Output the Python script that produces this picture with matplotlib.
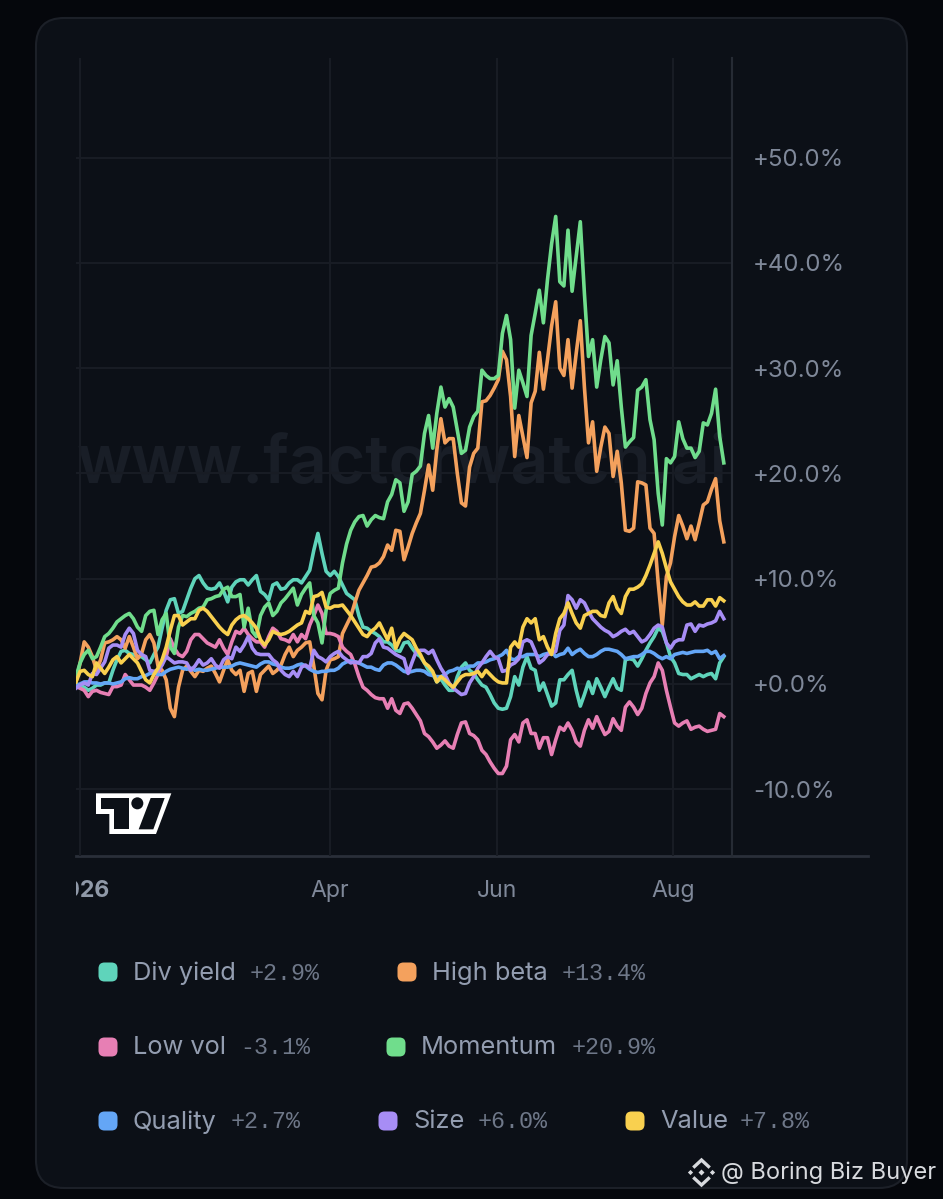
import matplotlib
matplotlib.use("Agg")
import matplotlib.pyplot as plt
import numpy as np
from matplotlib.patches import Circle, FancyBboxPatch, Polygon
from matplotlib.transforms import Bbox

# cumulative return (%) per trading day since the start of 2026
div_yield = [
    -0.1, -0.1, -0.3, -0.6, -0.4, -0.1, -0.1, 0.1, 0.1, 1.3, 2.3, 3.1, 3.2, 2.9, 2.8, 2.6, 2.6, 2.3, 2.0, 2.8,
    3.5, 5.3, 7.0, 8.0, 8.1, 6.7, 6.9, 8.0, 9.1, 10.0, 10.3, 9.6, 9.1, 9.0, 9.1, 9.6, 8.8, 7.8, 9.2, 9.7,
    9.9, 9.9, 9.4, 9.9, 10.3, 8.8, 8.5, 8.0, 9.4, 9.6, 9.0, 9.1, 9.6, 9.9, 9.9, 9.6, 10.2, 10.8, 12.7, 14.3,
    12.4, 10.7, 10.3, 10.7, 10.2, 9.4, 8.6, 8.3, 8.0, 6.5, 5.4, 5.3, 5.0, 4.8, 4.5, 4.0, 4.0, 3.7, 3.2, 3.1,
    3.9, 4.0, 3.4, 2.9, 2.6, 2.0, 1.3, 1.0, 0.2, 0.5, -0.1, -0.6, -0.6, 0.7, 1.6, 2.0, 1.3, 1.0, 0.4, -0.1,
    -0.3, -1.0, -1.8, -2.3, -2.4, -2.3, -1.2, 0.7, -0.1, 1.6, 2.6, 1.5, 1.3, -0.6, 0.1, -1.0, -2.1, -1.8, 0.4, 0.4,
    0.9, 1.3, -0.6, -2.1, -1.0, 0.2, -0.9, 0.5, -0.3, -1.2, -0.3, 0.5, -0.4, -0.6, 2.3, 2.4, 2.3, 1.7, 2.4, 3.2,
    3.9, 4.5, 5.3, 5.0, 3.9, 2.6, 2.0, 1.0, 0.9, 0.9, 0.5, 0.7, 0.9, 0.7, 0.9, 1.0, 0.5, 2.0, 2.6,
]
high_beta = [
    0.2, 2.0, 4.0, 3.5, 2.6, 1.3, 2.3, 3.9, 4.0, 4.2, 4.5, 4.2, 3.4, 4.5, 3.5, 2.4, 2.9, 4.2, 4.7, 3.9,
    1.7, 1.3, 0.4, -2.3, -3.1, -0.3, 1.3, 1.7, 1.2, 0.7, 1.3, 1.2, 1.5, 1.7, 1.0, 0.2, 1.3, 2.3, 1.3, 0.9,
    1.3, -0.7, 1.0, 1.2, -0.7, 0.9, 1.3, 1.7, 1.0, 1.3, 1.8, 2.8, 3.5, 2.6, 3.2, 3.5, 3.9, 4.0, 1.7, -0.9,
    -1.5, 1.3, 2.3, 2.4, 2.6, 4.8, 5.6, 6.4, 7.7, 8.9, 9.6, 10.3, 11.1, 11.2, 11.5, 12.1, 13.2, 12.7, 14.6, 14.5,
    11.8, 13.0, 14.3, 15.3, 16.2, 18.4, 20.8, 18.4, 22.2, 25.2, 22.9, 23.3, 23.3, 20.0, 17.2, 16.9, 20.6, 21.9, 22.4, 26.8,
    26.9, 27.4, 28.1, 28.9, 31.6, 30.8, 27.3, 21.6, 25.5, 23.5, 21.5, 26.7, 27.8, 31.5, 28.0, 30.8, 34.0, 36.3, 30.0, 29.3,
    32.7, 28.1, 31.4, 34.5, 28.2, 22.9, 24.9, 20.2, 22.5, 24.4, 23.8, 19.7, 22.1, 19.1, 14.6, 14.5, 14.8, 19.2, 19.1, 18.9,
    14.8, 14.3, 9.6, 5.6, 10.2, 11.5, 14.0, 16.0, 15.0, 13.8, 15.0, 13.7, 15.3, 17.0, 17.3, 18.5, 19.5, 15.5, 13.5,
]
low_vol = [
    -0.25, -0.4, -0.6, -1.2, -0.7, -0.6, -0.8, -0.9, -1.0, -0.25, -0.25, -0.1, 0.9, 0.4, -0.1, -0.1, -0.1, -0.3, -0.6, 0.1,
    0.9, 2.0, 2.6, 4.3, 3.4, 2.8, 2.6, 3.1, 4.2, 4.7, 4.7, 4.3, 3.9, 3.7, 3.5, 4.2, 3.4, 2.8, 4.0, 5.0,
    4.8, 5.3, 4.7, 4.3, 4.0, 4.0, 3.5, 4.5, 5.3, 5.0, 4.3, 4.2, 4.0, 4.7, 4.0, 4.7, 4.3, 5.6, 6.5, 7.5,
    6.7, 4.8, 4.8, 4.7, 4.5, 3.5, 3.1, 2.8, 1.9, 0.7, -0.3, -0.6, -1.0, -1.3, -1.4, -1.4, -2.3, -1.4, -2.5, -2.8,
    -1.9, -1.8, -2.3, -2.9, -3.5, -4.7, -5.0, -5.5, -6.1, -5.8, -5.4, -5.9, -6.1, -4.8, -3.7, -3.6, -4.7, -4.9, -5.3, -6.3,
    -6.7, -7.4, -8.0, -8.5, -8.5, -7.8, -5.3, -4.8, -5.5, -3.7, -3.4, -4.7, -4.7, -6.1, -5.1, -5.1, -6.7, -5.3, -4.1, -4.4,
    -3.7, -4.4, -5.5, -5.9, -4.4, -3.4, -4.2, -3.1, -4.0, -4.8, -4.5, -3.3, -4.0, -4.4, -2.2, -1.7, -2.2, -2.9, -2.3, -0.9,
    0.1, 0.7, 2.0, 1.3, -0.6, -2.2, -3.7, -4.0, -3.7, -3.5, -4.3, -4.1, -4.0, -4.3, -4.5, -4.4, -4.3, -2.8, -3.1,
]
momentum = [
    0.7, 2.0, 2.8, 3.2, 2.4, 2.6, 3.5, 4.5, 4.8, 5.3, 5.9, 6.2, 6.5, 6.7, 6.2, 5.4, 5.0, 6.5, 6.9, 7.0,
    4.7, 6.1, 6.7, 3.5, 2.9, 5.4, 6.5, 6.4, 6.7, 6.9, 7.2, 7.3, 8.0, 8.1, 8.3, 8.4, 9.0, 9.2, 8.3, 8.3,
    8.5, 5.4, 7.2, 5.0, 4.5, 6.5, 7.3, 7.7, 6.5, 6.9, 7.7, 8.1, 8.6, 9.1, 7.5, 8.5, 9.1, 9.6, 6.5, 5.8,
    3.9, 7.0, 8.6, 8.9, 9.1, 11.5, 13.3, 14.6, 15.4, 15.9, 16.0, 15.0, 15.6, 16.0, 15.8, 15.7, 17.3, 18.0, 19.4, 19.1,
    16.4, 17.3, 19.9, 20.2, 20.7, 23.8, 25.5, 22.4, 25.7, 28.2, 26.3, 27.1, 26.3, 24.1, 21.9, 22.2, 24.4, 25.4, 25.9, 29.8,
    29.3, 29.0, 29.0, 29.3, 33.3, 35.0, 32.7, 26.2, 29.8, 28.6, 27.3, 33.1, 35.2, 37.4, 34.3, 38.4, 41.8, 44.4, 38.2, 37.8,
    43.1, 37.3, 40.6, 43.9, 37.1, 31.1, 32.7, 28.2, 30.8, 33.0, 32.4, 28.4, 30.7, 26.3, 22.5, 23.0, 23.4, 27.9, 28.2, 28.9,
    25.1, 23.2, 18.1, 15.1, 21.4, 21.0, 21.6, 24.9, 23.3, 22.4, 22.4, 21.5, 22.1, 24.8, 24.6, 25.7, 28.0, 23.5, 21.0,
]
quality = [
    -0.1, 0.0, 0.2, 0.2, 0.1, 0.1, 0.0, 0.1, 0.1, 0.0, 0.1, 0.2, 0.5, 0.6, 0.5, 0.5, 0.7, 0.8, 1.0, 1.1,
    0.9, 0.9, 1.2, 1.4, 1.5, 1.6, 1.5, 1.4, 1.5, 1.3, 1.4, 1.3, 1.3, 1.4, 1.5, 1.6, 1.6, 1.6, 1.7, 1.9,
    2.0, 1.9, 1.8, 1.7, 1.6, 1.9, 2.1, 2.1, 1.9, 1.8, 1.6, 1.5, 1.5, 1.6, 1.8, 1.9, 1.7, 1.4, 1.2, 1.1,
    1.2, 1.2, 1.3, 1.3, 1.5, 1.9, 2.1, 2.2, 2.1, 2.0, 1.8, 1.6, 1.6, 1.4, 1.3, 1.8, 2.0, 2.0, 1.8, 1.5,
    1.2, 1.1, 1.2, 1.3, 1.3, 1.2, 0.9, 0.8, 0.7, 0.7, 0.9, 1.2, 1.3, 1.5, 1.4, 1.5, 1.7, 1.7, 2.0, 2.0,
    2.1, 2.3, 2.4, 2.6, 2.8, 3.2, 2.4, 2.3, 2.6, 2.6, 2.8, 2.8, 2.8, 2.6, 2.8, 2.9, 3.1, 2.6, 2.8, 2.9,
    3.4, 2.8, 3.1, 3.3, 2.9, 2.6, 2.6, 2.8, 3.1, 3.3, 3.3, 3.2, 3.1, 2.8, 2.4, 2.5, 2.6, 2.6, 2.8, 3.1,
    3.1, 2.9, 2.6, 2.4, 2.6, 2.4, 2.8, 2.9, 3.0, 2.9, 3.0, 3.1, 3.1, 3.1, 3.2, 2.9, 3.1, 2.4, 2.7,
]
size = [
    -0.4, -0.1, 0.1, -0.1, 1.0, 0.9, 1.5, 2.1, 3.4, 3.7, 3.7, 3.5, 4.7, 5.3, 4.8, 3.2, 2.8, 2.6, 1.3, 1.2,
    1.3, 1.8, 2.6, 2.3, 2.0, 2.1, 2.1, 2.0, 1.3, 1.7, 2.3, 1.8, 2.0, 2.4, 1.8, 1.5, 2.3, 2.6, 2.4, 3.5,
    3.1, 3.7, 4.5, 3.4, 2.9, 2.8, 2.8, 2.8, 2.3, 2.0, 1.3, 0.9, 0.7, 1.2, 0.7, 1.6, 1.8, 1.5, 3.2, 2.6,
    2.4, 2.1, 2.6, 2.9, 3.1, 2.6, 2.3, 2.0, 2.1, 2.0, 2.6, 2.6, 2.9, 3.9, 4.3, 3.5, 3.4, 3.1, 2.8, 2.6,
    2.4, 1.0, 2.1, 3.1, 3.2, 3.2, 2.9, 3.2, 2.3, 1.5, 0.9, 0.1, -0.4, -0.7, -1.0, -0.9, 0.1, 0.7, 1.5, 2.0,
    2.6, 3.1, 2.6, 2.4, 1.2, 1.3, 1.8, 2.0, 2.4, 4.0, 4.2, 4.0, 3.1, 2.0, 2.3, 2.8, 2.9, 3.1, 5.1, 5.6,
    8.4, 8.0, 7.2, 8.0, 7.7, 6.9, 6.2, 5.8, 5.4, 5.1, 4.9, 4.5, 4.7, 5.0, 5.2, 4.8, 5.0, 4.5, 4.0, 4.2,
    4.7, 5.3, 5.6, 5.4, 3.9, 3.4, 4.0, 4.2, 4.2, 5.6, 5.7, 5.0, 5.6, 5.5, 5.7, 5.8, 6.0, 6.9, 6.2,
]
value = [
    0.2, 1.2, 1.3, 0.9, 0.7, 2.0, 1.5, 1.0, 1.6, 2.3, 2.6, 2.0, 2.4, 2.8, 2.4, 2.0, 1.2, 0.4, 0.1, 0.9,
    1.5, 2.3, 3.5, 5.1, 6.5, 6.5, 5.6, 5.9, 6.2, 6.2, 7.0, 7.2, 6.9, 6.4, 5.9, 5.4, 5.0, 4.7, 5.6, 6.1,
    6.4, 6.5, 6.2, 5.8, 5.3, 4.2, 3.7, 4.2, 5.0, 4.8, 4.7, 4.8, 5.0, 5.3, 5.6, 5.8, 6.9, 6.7, 8.3, 8.4,
    8.7, 7.3, 7.2, 7.4, 7.4, 7.5, 7.0, 6.5, 5.9, 5.3, 4.7, 4.5, 5.0, 5.3, 5.8, 5.0, 4.2, 5.3, 3.4, 4.3,
    4.8, 4.5, 4.2, 3.4, 2.8, 2.0, 1.7, 1.2, 0.2, 0.7, 0.4, 0.0, -0.3, 0.2, 0.7, 0.9, 0.9, 1.0, 1.2, 0.7,
    1.3, 0.9, 0.5, 0.2, 0.1, 0.1, 3.5, 4.0, 3.5, 5.4, 6.2, 5.8, 6.2, 4.2, 4.5, 3.5, 2.8, 4.8, 6.2, 6.7,
    7.7, 6.7, 5.8, 5.3, 6.5, 6.7, 6.9, 6.9, 6.5, 6.4, 7.7, 8.3, 7.2, 6.7, 8.3, 9.0, 9.0, 9.2, 9.5, 10.3,
    11.3, 12.4, 13.5, 12.4, 11.0, 9.7, 9.0, 8.3, 7.8, 7.5, 7.5, 7.8, 7.4, 7.4, 8.0, 8.0, 7.4, 8.2, 7.9,
]

days = np.arange(159)
names = ["Div yield", "High beta", "Low vol", "Momentum", "Quality", "Size", "Value"]
finals = ["+2.9%", "+13.4%", "-3.1%", "+20.9%", "+2.7%", "+6.0%", "+7.8%"]
colors = ["#5fd4bb", "#f4a15d", "#e77fb4", "#70dd8c", "#64a6f6", "#a78df5", "#f9d04f"]
series = [div_yield, high_beta, low_vol, momentum, quality, size, value]

y_ticks = [-10, 0, 10, 20, 30, 40, 50]
month_pos = [1, 62, 102.7, 145.6]
month_labels = ["2026", "Apr", "Jun", "Aug"]

W, H = 943, 1199
BG_OUT = "#05070c"
BG_CARD = "#0c1017"
GRID = "#181c24"
TICK = "#7f8899"

plt.rcParams["font.family"] = ["Inter", "DejaVu Sans"]
fig = plt.figure(figsize=(W / 100, H / 100), dpi=100, facecolor=BG_OUT)

# full figure layer in pixel coordinates for card, logos, legend
bg = fig.add_axes([0, 0, 1, 1], zorder=0)
bg.set_xlim(0, W)
bg.set_ylim(H, 0)
bg.axis("off")
bg.add_patch(FancyBboxPatch((36, 18), 871, 1170, boxstyle="round,pad=0,rounding_size=28",
                            fc=BG_CARD, ec="#1c2028", lw=1.5))

ax = fig.add_axes([76 / W, 1 - 856 / H, (732 - 76) / W, (856 - 58) / H], zorder=1)
ax.patch.set_alpha(0)
ax.set_xlim(0, 160)
ax.set_ylim((684 - 856) / 10.53, (684 - 58) / 10.53)

ax.grid(True, color=GRID, lw=1.5, zorder=0.5)
ax.set_axisbelow(True)
for side in ["top", "left", "bottom"]:
    ax.spines[side].set_visible(False)
ax.spines["right"].set_color("#262b34")
ax.spines["right"].set_linewidth(1.5)

ax.yaxis.tick_right()
ax.set_yticks(y_ticks)
ax.set_yticklabels([f"{v:+.1f}%" for v in y_ticks], fontsize=17.3, color=TICK)
ax.set_xticks(month_pos)
ax.set_xticklabels(month_labels, fontsize=16.6, color=TICK)
ax.tick_params(length=0)
ax.tick_params(axis="y", pad=15)
ax.tick_params(axis="x", pad=17)

# first label is cut off by the left edge of the axis, like in the screenshot
first = ax.get_xticklabels()[0]
first.set_fontweight("bold")
first.set_color("#9099a8")
first.set_clip_box(Bbox([[76, 0], [W, H]]))
first.set_clip_on(True)

wm = ax.text(0.25, 19.1, "www.factorwatch.ai", fontweight="semibold", fontsize=47.5,
             color="#191e27", va="baseline", ha="left", zorder=0.4)
wm.set_clip_box(Bbox([[76, 0], [730, H]]))
wm.set_clip_on(True)

for name, vals, col in zip(names, series, colors):
    ax.plot(days, vals, color=col, lw=2.6, solid_joinstyle="round", label=name, zorder=3)

# base line under the plot
bg.plot([76, 868], [856, 856], color="#2a2f39", lw=2)

# TradingView style logo
def logo_pts(pts):
    return [(60 + x / 3, 770 + y / 3) for x, y in pts]

ax_logo = fig.add_axes([0, 0, 1, 1], zorder=2)
ax_logo.set_xlim(0, W)
ax_logo.set_ylim(H, 0)
ax_logo.axis("off")
ax_logo.add_patch(Polygon(logo_pts([(108, 70), (334, 70), (288, 192), (148, 192), (148, 132), (108, 132)]), fc="white", ec="none"))
ax_logo.add_patch(Polygon(logo_pts([(122, 84), (208, 84), (208, 178), (162, 178), (162, 118), (122, 118)]), fc=BG_CARD, ec="none"))
ax_logo.add_patch(Polygon(logo_pts([(272, 84), (314, 84), (280, 178), (236, 178)]), fc=BG_CARD, ec="none"))
ax_logo.add_patch(Circle((60 + 232 / 3, 770 + 100 / 3), 6, fc=BG_CARD, ec="none"))

# legend rows
legend_items = [
    (0, 108, 972, 133, 250), (1, 407, 972, 432, 562),
    (2, 108, 1047, 133, 240), (3, 396, 1047, 421, 572),
    (4, 108, 1121, 133, 231), (5, 388, 1121, 413, 478), (6, 635, 1121, 660, 740),
]
for idx, xm, ym, xl, xv in legend_items:
    ax_logo.add_patch(FancyBboxPatch((xm - 9.5, ym - 9.5), 19, 19, boxstyle="round,pad=0,rounding_size=6",
                                     fc=colors[idx], ec="none"))
    ax_logo.text(xl, ym + 1, names[idx], fontsize=18.3, color="#939db0", va="center", ha="left")
    ax_logo.text(xv, ym + 1, finals[idx], family="Liberation Mono", fontsize=16.8, color="#6f7889",
                 va="center", ha="left")

# Binance style mark and credit
cx, cy = 701.5, 1172.5
for dx, dy, r in [(-11, 0, 2.6), (11, 0, 2.6), (0, 0, 3)]:
    ax_logo.add_patch(Polygon([(cx + dx - r, cy + dy), (cx + dx, cy + dy - r), (cx + dx + r, cy + dy), (cx + dx, cy + dy + r)],
                              fc="#d8dade", ec="none"))
for s in [-1, 1]:
    ax_logo.plot([cx - 7, cx, cx + 7], [cy + s * 6, cy + s * 12.5, cy + s * 6], color="#d8dade", lw=2.4, solid_joinstyle="miter")
ax_logo.text(721, 1173, "@ Boring Biz Buyer", fontsize=17, color="#d8dade", va="center", ha="left")

plt.savefig("out.png", dpi=100, facecolor=fig.get_facecolor())
